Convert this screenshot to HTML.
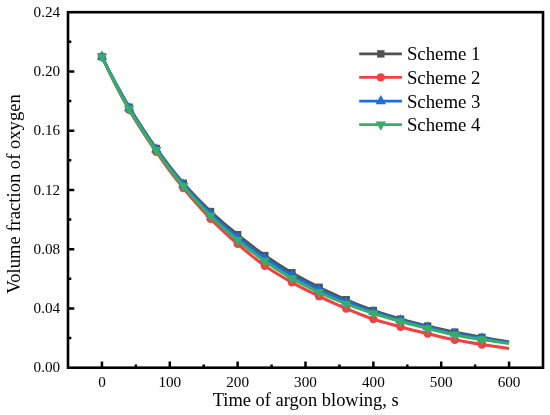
<!DOCTYPE html>
<html><head><meta charset="utf-8"><title>Chart</title>
<style>html,body{margin:0;padding:0;background:#fff}svg{display:block}</style></head>
<body>
<svg width="550" height="415" viewBox="0 0 550 415" font-family="'Liberation Serif', serif" fill="#000">
<rect width="550" height="415" fill="#fff"/>
<polyline points="101.93,56.64 108.71,70.12 115.50,83.01 122.29,95.35 129.07,107.15 135.86,118.16 142.64,128.70 149.43,138.80 156.21,148.47 163.00,157.75 169.79,166.63 176.57,175.14 183.36,183.28 190.14,190.81 196.93,198.02 203.71,204.94 210.50,211.58 217.29,217.70 224.07,223.59 230.86,229.25 237.64,234.68 244.43,240.24 251.21,245.57 258.00,250.68 264.79,255.57 271.57,260.14 278.36,264.52 285.14,268.72 291.93,272.75 298.71,276.61 305.50,280.31 312.29,283.86 319.07,287.27 325.86,290.58 332.64,293.75 339.43,296.79 346.21,299.71 353.00,302.59 359.79,305.35 366.57,307.99 373.36,310.52 380.14,312.80 386.93,314.99 393.71,317.10 400.50,319.12 407.29,320.96 414.07,322.73 420.86,324.44 427.64,326.08 434.43,327.69 441.21,329.23 448.00,330.72 454.79,332.15 461.57,333.52 468.36,334.84 475.14,336.11 481.93,337.33 488.71,338.55 495.50,339.72 502.29,340.85 509.07,341.93" fill="none" stroke="#515151" stroke-width="3.1" stroke-linejoin="round"/>
<rect x="98.23" y="52.94" width="7.40" height="7.40" fill="#515151"/>
<rect x="125.37" y="103.45" width="7.40" height="7.40" fill="#515151"/>
<rect x="152.51" y="144.77" width="7.40" height="7.40" fill="#515151"/>
<rect x="179.66" y="179.58" width="7.40" height="7.40" fill="#515151"/>
<rect x="206.80" y="207.88" width="7.40" height="7.40" fill="#515151"/>
<rect x="233.94" y="230.98" width="7.40" height="7.40" fill="#515151"/>
<rect x="261.09" y="251.87" width="7.40" height="7.40" fill="#515151"/>
<rect x="288.23" y="269.05" width="7.40" height="7.40" fill="#515151"/>
<rect x="315.37" y="283.57" width="7.40" height="7.40" fill="#515151"/>
<rect x="342.51" y="296.01" width="7.40" height="7.40" fill="#515151"/>
<rect x="369.66" y="306.82" width="7.40" height="7.40" fill="#515151"/>
<rect x="396.80" y="315.42" width="7.40" height="7.40" fill="#515151"/>
<rect x="423.94" y="322.38" width="7.40" height="7.40" fill="#515151"/>
<rect x="451.09" y="328.45" width="7.40" height="7.40" fill="#515151"/>
<rect x="478.23" y="333.63" width="7.40" height="7.40" fill="#515151"/>
<polyline points="101.93,56.64 108.71,70.88 115.50,84.47 122.29,97.44 129.07,109.81 135.86,121.00 142.64,131.70 149.43,141.94 156.21,151.73 163.00,161.44 169.79,170.71 176.57,179.57 183.36,188.02 190.14,196.24 196.93,204.07 203.71,211.55 210.50,218.69 217.29,225.43 224.07,231.86 230.86,238.00 237.64,243.87 244.43,249.75 251.21,255.36 258.00,260.70 264.79,265.79 271.57,270.22 278.36,274.45 285.14,278.50 291.93,282.38 298.71,286.05 305.50,289.57 312.29,292.94 319.07,296.16 325.86,299.49 332.64,302.67 339.43,305.71 346.21,308.60 353.00,311.42 359.79,314.11 366.57,316.68 373.36,319.12 380.14,321.17 386.93,323.13 393.71,325.01 400.50,326.82 407.29,328.64 414.07,330.38 420.86,332.04 427.64,333.63 434.43,335.31 441.21,336.90 448.00,338.41 454.79,339.85 461.57,341.08 468.36,342.25 475.14,343.37 481.93,344.44 488.71,345.52 495.50,346.54 502.29,347.51 509.07,348.44" fill="none" stroke="#F14040" stroke-width="3.1" stroke-linejoin="round"/>
<circle cx="101.93" cy="56.64" r="4.20" fill="#F14040"/>
<circle cx="129.07" cy="109.81" r="4.20" fill="#F14040"/>
<circle cx="156.21" cy="151.73" r="4.20" fill="#F14040"/>
<circle cx="183.36" cy="188.02" r="4.20" fill="#F14040"/>
<circle cx="210.50" cy="218.69" r="4.20" fill="#F14040"/>
<circle cx="237.64" cy="243.87" r="4.20" fill="#F14040"/>
<circle cx="264.79" cy="265.79" r="4.20" fill="#F14040"/>
<circle cx="291.93" cy="282.38" r="4.20" fill="#F14040"/>
<circle cx="319.07" cy="296.16" r="4.20" fill="#F14040"/>
<circle cx="346.21" cy="308.60" r="4.20" fill="#F14040"/>
<circle cx="373.36" cy="319.12" r="4.20" fill="#F14040"/>
<circle cx="400.50" cy="326.82" r="4.20" fill="#F14040"/>
<circle cx="427.64" cy="333.63" r="4.20" fill="#F14040"/>
<circle cx="454.79" cy="339.85" r="4.20" fill="#F14040"/>
<circle cx="481.93" cy="344.44" r="4.20" fill="#F14040"/>
<polyline points="101.93,56.64 108.71,70.36 115.50,83.48 122.29,96.03 129.07,108.01 135.86,119.01 142.64,129.54 149.43,139.62 156.21,149.27 163.00,158.68 169.79,167.69 176.57,176.31 183.36,184.55 190.14,192.26 196.93,199.65 203.71,206.73 210.50,213.51 217.29,219.79 224.07,225.82 230.86,231.60 237.64,237.15 244.43,242.72 251.21,248.05 258.00,253.15 264.79,258.04 271.57,262.63 278.36,267.03 285.14,271.25 291.93,275.28 298.71,279.07 305.50,282.71 312.29,286.19 319.07,289.53 325.86,292.74 332.64,295.81 339.43,298.75 346.21,301.58 353.00,304.29 359.79,306.90 366.57,309.40 373.36,311.79 380.14,314.02 386.93,316.16 393.71,318.21 400.50,320.18 407.29,322.03 414.07,323.80 420.86,325.50 427.64,327.14 434.43,328.81 441.21,330.41 448.00,331.95 454.79,333.42 461.57,334.72 468.36,335.97 475.14,337.18 481.93,338.33 488.71,339.46 495.50,340.55 502.29,341.59 509.07,342.59" fill="none" stroke="#1A6FDF" stroke-width="3.1" stroke-linejoin="round"/>
<polygon points="101.93,50.64 96.73,59.84 107.13,59.84" fill="#1A6FDF"/>
<polygon points="129.07,102.01 123.87,111.21 134.27,111.21" fill="#1A6FDF"/>
<polygon points="156.21,143.27 151.01,152.47 161.41,152.47" fill="#1A6FDF"/>
<polygon points="183.36,178.55 178.16,187.75 188.56,187.75" fill="#1A6FDF"/>
<polygon points="210.50,207.51 205.30,216.71 215.70,216.71" fill="#1A6FDF"/>
<polygon points="237.64,231.15 232.44,240.35 242.84,240.35" fill="#1A6FDF"/>
<polygon points="264.79,252.04 259.59,261.24 269.99,261.24" fill="#1A6FDF"/>
<polygon points="291.93,269.28 286.73,278.48 297.13,278.48" fill="#1A6FDF"/>
<polygon points="319.07,283.53 313.87,292.73 324.27,292.73" fill="#1A6FDF"/>
<polygon points="346.21,295.58 341.01,304.78 351.41,304.78" fill="#1A6FDF"/>
<polygon points="373.36,305.79 368.16,314.99 378.56,314.99" fill="#1A6FDF"/>
<polygon points="400.50,314.18 395.30,323.38 405.70,323.38" fill="#1A6FDF"/>
<polygon points="427.64,321.14 422.44,330.34 432.84,330.34" fill="#1A6FDF"/>
<polygon points="454.79,327.42 449.59,336.62 459.99,336.62" fill="#1A6FDF"/>
<polygon points="481.93,332.33 476.73,341.53 487.13,341.53" fill="#1A6FDF"/>
<polyline points="101.93,56.64 108.71,70.67 115.50,84.06 122.29,96.86 129.07,109.07 135.86,120.05 142.64,130.56 149.43,140.62 156.21,150.25 163.00,159.83 169.79,168.98 176.57,177.73 183.36,186.10 190.14,194.05 196.93,201.65 203.71,208.92 210.50,215.87 217.29,222.35 224.07,228.55 230.86,234.48 237.64,240.16 244.43,245.74 251.21,251.07 258.00,256.17 264.79,261.05 271.57,265.67 278.36,270.10 285.14,274.33 291.93,278.38 298.71,282.09 305.50,285.64 312.29,289.04 319.07,292.30 325.86,295.38 332.64,298.32 339.43,301.15 346.21,303.86 353.00,306.37 359.79,308.79 366.57,311.11 373.36,313.34 380.14,315.50 386.93,317.58 393.71,319.57 400.50,321.48 407.29,323.33 414.07,325.11 420.86,326.81 427.64,328.45 434.43,330.19 441.21,331.85 448.00,333.44 454.79,334.96 461.57,336.18 468.36,337.35 475.14,338.47 481.93,339.56 488.71,340.57 495.50,341.55 502.29,342.50 509.07,343.41" fill="none" stroke="#37AD6B" stroke-width="3.1" stroke-linejoin="round"/>
<polygon points="101.93,62.64 96.73,53.44 107.13,53.44" fill="#37AD6B"/>
<polygon points="129.07,115.07 123.87,105.87 134.27,105.87" fill="#37AD6B"/>
<polygon points="156.21,156.25 151.01,147.05 161.41,147.05" fill="#37AD6B"/>
<polygon points="183.36,192.10 178.16,182.90 188.56,182.90" fill="#37AD6B"/>
<polygon points="210.50,221.87 205.30,212.67 215.70,212.67" fill="#37AD6B"/>
<polygon points="237.64,246.16 232.44,236.96 242.84,236.96" fill="#37AD6B"/>
<polygon points="264.79,267.05 259.59,257.85 269.99,257.85" fill="#37AD6B"/>
<polygon points="291.93,284.38 286.73,275.18 297.13,275.18" fill="#37AD6B"/>
<polygon points="319.07,298.30 313.87,289.10 324.27,289.10" fill="#37AD6B"/>
<polygon points="346.21,309.86 341.01,300.66 351.41,300.66" fill="#37AD6B"/>
<polygon points="373.36,319.34 368.16,310.14 378.56,310.14" fill="#37AD6B"/>
<polygon points="400.50,327.49 395.30,318.29 405.70,318.29" fill="#37AD6B"/>
<polygon points="427.64,334.45 422.44,325.25 432.84,325.25" fill="#37AD6B"/>
<polygon points="454.79,340.96 449.59,331.76 459.99,331.76" fill="#37AD6B"/>
<polygon points="481.93,345.56 476.73,336.36 487.13,336.36" fill="#37AD6B"/>
<rect x="68.0" y="12.2" width="475.0" height="355.5" fill="none" stroke="#000" stroke-width="2.6"/>
<path d="M101.93,367.7 v-6.3 M135.86,367.7 v-3.3 M169.79,367.7 v-6.3 M203.71,367.7 v-3.3 M237.64,367.7 v-6.3 M271.57,367.7 v-3.3 M305.50,367.7 v-6.3 M339.43,367.7 v-3.3 M373.36,367.7 v-6.3 M407.29,367.7 v-3.3 M441.21,367.7 v-6.3 M475.14,367.7 v-3.3 M509.07,367.7 v-6.3 M68.0,338.07 h3.3 M68.0,308.45 h6.3 M68.0,278.82 h3.3 M68.0,249.20 h6.3 M68.0,219.57 h3.3 M68.0,189.95 h6.3 M68.0,160.32 h3.3 M68.0,130.70 h6.3 M68.0,101.07 h3.3 M68.0,71.45 h6.3 M68.0,41.82 h3.3" stroke="#000" stroke-width="2.5" fill="none"/>
<text x="101.93" y="386.5" font-size="15.2" text-anchor="middle">0</text>
<text x="169.79" y="386.5" font-size="15.2" text-anchor="middle">100</text>
<text x="237.64" y="386.5" font-size="15.2" text-anchor="middle">200</text>
<text x="305.50" y="386.5" font-size="15.2" text-anchor="middle">300</text>
<text x="373.36" y="386.5" font-size="15.2" text-anchor="middle">400</text>
<text x="441.21" y="386.5" font-size="15.2" text-anchor="middle">500</text>
<text x="509.07" y="386.5" font-size="15.2" text-anchor="middle">600</text>
<text x="60.2" y="372.30" font-size="15.2" text-anchor="end">0.00</text>
<text x="60.2" y="313.05" font-size="15.2" text-anchor="end">0.04</text>
<text x="60.2" y="253.80" font-size="15.2" text-anchor="end">0.08</text>
<text x="60.2" y="194.55" font-size="15.2" text-anchor="end">0.12</text>
<text x="60.2" y="135.30" font-size="15.2" text-anchor="end">0.16</text>
<text x="60.2" y="76.05" font-size="15.2" text-anchor="end">0.20</text>
<text x="60.2" y="16.80" font-size="15.2" text-anchor="end">0.24</text>
<text x="305.7" y="405.5" font-size="18.45" text-anchor="middle">Time of argon blowing, s</text>
<text transform="translate(19.5,194) rotate(-90)" font-size="18.6" text-anchor="middle">Volume fraction of oxygen</text>
<line x1="359.2" x2="401.9" y1="53.9" y2="53.9" stroke="#515151" stroke-width="2.8"/>
<rect x="377.10" y="50.20" width="7.40" height="7.40" fill="#515151"/>
<text x="406.9" y="60.20" font-size="18.8">Scheme 1</text>
<line x1="359.2" x2="401.9" y1="77.4" y2="77.4" stroke="#F14040" stroke-width="2.8"/>
<circle cx="380.80" cy="77.40" r="4.20" fill="#F14040"/>
<text x="406.9" y="83.90" font-size="18.8">Scheme 2</text>
<line x1="359.2" x2="401.9" y1="101.1" y2="101.1" stroke="#1A6FDF" stroke-width="2.8"/>
<polygon points="380.80,95.10 375.60,104.30 386.00,104.30" fill="#1A6FDF"/>
<text x="406.9" y="107.50" font-size="18.8">Scheme 3</text>
<line x1="359.2" x2="401.9" y1="124.7" y2="124.7" stroke="#37AD6B" stroke-width="2.8"/>
<polygon points="380.80,130.70 375.60,121.50 386.00,121.50" fill="#37AD6B"/>
<text x="406.9" y="131.00" font-size="18.8">Scheme 4</text>
</svg>
</body></html>
